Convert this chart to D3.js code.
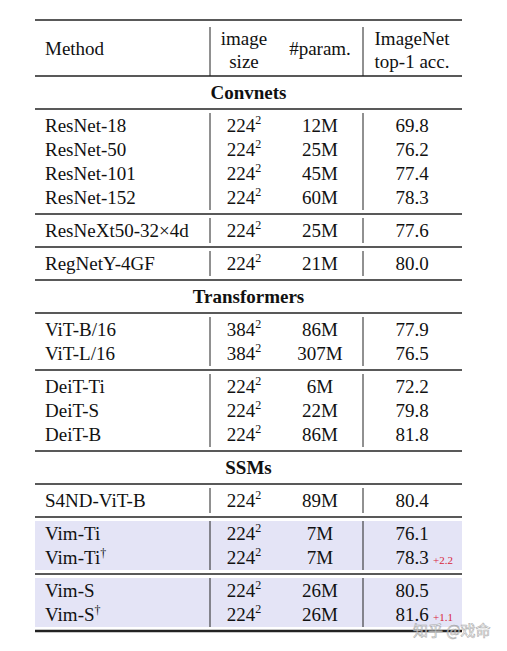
<!DOCTYPE html>
<html><head><meta charset="utf-8">
<script src="https://cdn.jsdelivr.net/npm/d3@7"></script>
<style>body{margin:0;background:#fff}text{font-family:"Liberation Serif","DejaVu Serif",serif;fill:#111}</style>
</head><body><svg id="c" width="507" height="651"></svg>
<script>
// table data
const sections = ["Convnets", "Transformers", "SSMs"];
const methods = [["ResNet-18","ResNet-50","ResNet-101","ResNet-152"],["ResNeXt50-32×4d"],["RegNetY-4GF"],
  ["ViT-B/16","ViT-L/16"],["DeiT-Ti","DeiT-S","DeiT-B"],["S4ND-ViT-B"],["Vim-Ti","Vim-Ti†"],["Vim-S","Vim-S†"]];
const imgSize = [[224,224,224,224],[224],[224],[384,384],[224,224,224],[224],[224,224],[224,224]];
const params = [["12M","25M","45M","60M"],["25M"],["21M"],["86M","307M"],["6M","22M","86M"],["89M"],["7M","7M"],["26M","26M"]];
const acc = [[69.8,76.2,77.4,78.3],[77.6],[80.0],[77.9,76.5],[72.2,79.8,81.8],[80.4],[76.1,78.3],[80.5,81.6]];
const gains = [[],[],[],[],[],[],[null,"+2.2"],[null,"+1.1"]];
const groupSection = [0,0,0,1,1,2,2,2];
const shaded = [false,false,false,false,false,false,true,true];

const svg = d3.select("#c");
const x0 = 35, x1 = 462, v1 = 210, v2 = 363;
const cx = [45, 244, 320, 412];
const rowH = 24, fs = 19;

function rule(y, w) {
  svg.append("line").attr("x1", x0).attr("x2", x1).attr("y1", y).attr("y2", y)
    .attr("stroke", "#222").attr("stroke-width", w);
}
function vlines(ya, yb) {
  [v1, v2].forEach(v => svg.append("line").attr("x1", v).attr("x2", v).attr("y1", ya).attr("y2", yb)
    .attr("stroke", "#222").attr("stroke-width", 1));
}

// header
rule(20, 1.5);
svg.append("text").attr("x", cx[0]).attr("y", 55).attr("font-size", fs).text("Method");
svg.append("text").attr("x", cx[1]).attr("y", 45).attr("text-anchor","middle").attr("font-size", fs).text("image");
svg.append("text").attr("x", cx[1]).attr("y", 68).attr("text-anchor","middle").attr("font-size", fs).text("size");
svg.append("text").attr("x", cx[2]).attr("y", 55).attr("text-anchor","middle").attr("font-size", fs).text("#param.");
svg.append("text").attr("x", cx[3]).attr("y", 45).attr("text-anchor","middle").attr("font-size", fs).text("ImageNet");
svg.append("text").attr("x", cx[3]).attr("y", 68).attr("text-anchor","middle").attr("font-size", fs).text("top-1 acc.");
vlines(27, 76);
rule(76, 1.5);

let y = 76, lastSec = -1;
methods.forEach((rows, g) => {
  if (groupSection[g] !== lastSec) {
    lastSec = groupSection[g];
    svg.append("text").attr("x", (x0 + x1) / 2).attr("y", y + 23).attr("text-anchor","middle")
      .attr("font-size", fs).attr("font-weight","bold").text(sections[lastSec]);
    y += 33;
    rule(y, 1.5);
  }
  const top = y + 4, bot = y + rows.length * rowH + 5;
  if (shaded[g]) svg.append("rect").attr("x", x0).attr("y", top).attr("width", x1 - x0)
    .attr("height", bot - top).attr("fill", "#e4e4f6");
  vlines(top, bot);
  rows.forEach((m, i) => {
    const ty = y + 23 + i * rowH;
    svg.append("text").attr("x", cx[0]).attr("y", ty).attr("font-size", fs).text(m.replace("†",""))
      .append("tspan").attr("dy", -7).attr("font-size", 12).text(m.includes("†") ? "†" : "");
    const t = svg.append("text").attr("x", cx[1]).attr("y", ty).attr("text-anchor","middle").attr("font-size", fs);
    t.append("tspan").text(imgSize[g][i]);
    t.append("tspan").attr("dy", -8).attr("font-size", 12).text("2");
    svg.append("text").attr("x", cx[2]).attr("y", ty).attr("text-anchor","middle").attr("font-size", fs).text(params[g][i]);
    svg.append("text").attr("x", cx[3]).attr("y", ty).attr("text-anchor","middle").attr("font-size", fs).text(acc[g][i].toFixed(1));
    if (gains[g][i]) svg.append("text").attr("x", cx[3] + 21).attr("y", ty).attr("font-size", 11)
      .style("fill", "#d9263a").text(gains[g][i]);
  });
  y = bot + 4;
  rule(y, g === methods.length - 1 ? 2.5 : 1.5);
});

// watermark
svg.append("text").attr("x", 413).attr("y", 636).attr("font-size", 15)
  .style("font-family", "Noto Sans CJK SC").style("fill", "#ffffff").style("stroke", "#999").style("stroke-width", 0.6)
  .attr("opacity", 0.8).text("知乎 @戏命");
</script></body></html>
